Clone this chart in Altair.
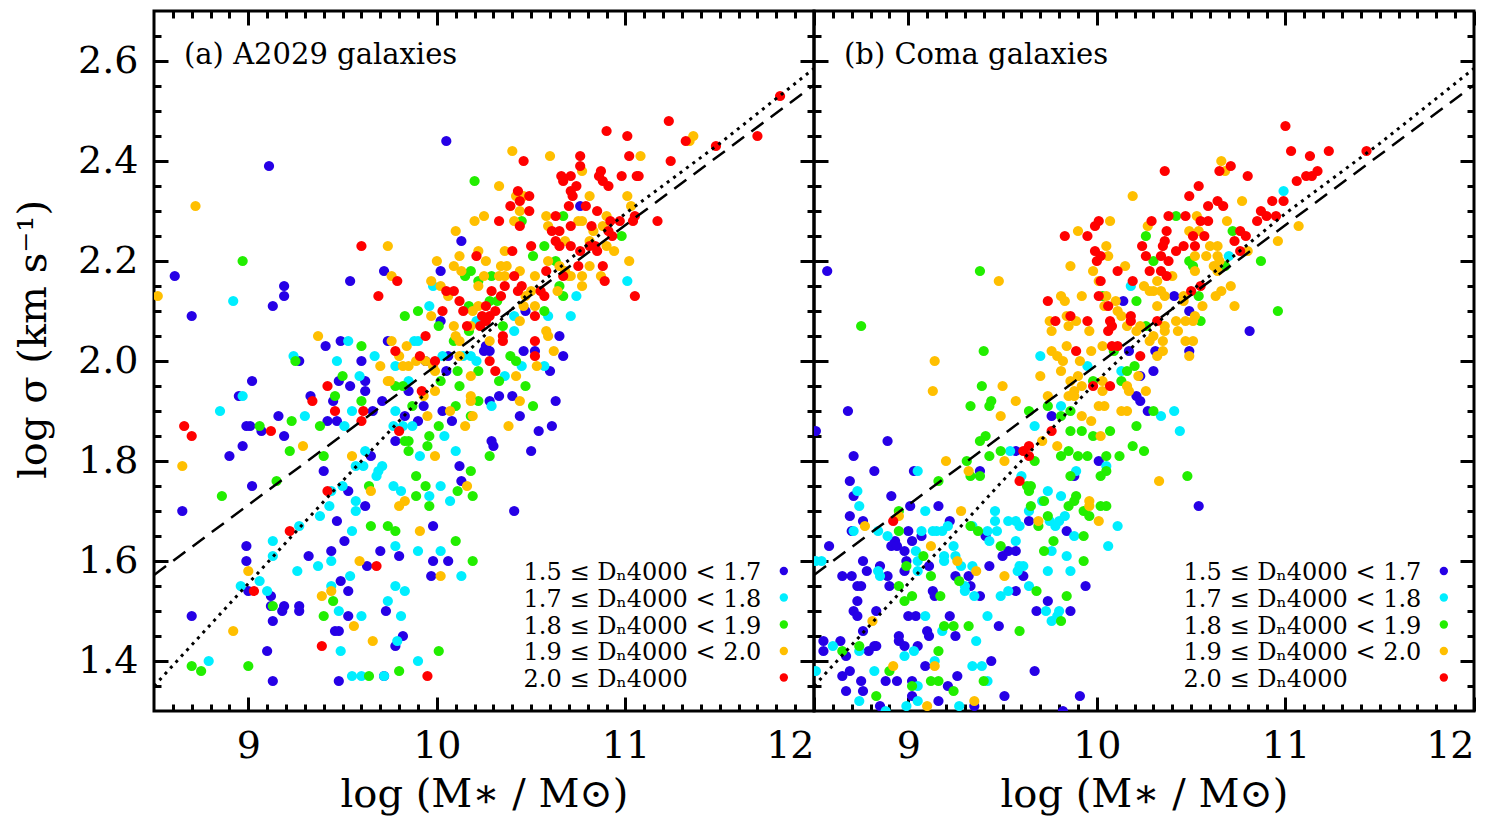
import pandas as pd
import altair as alt

FONT = "DejaVu Serif"

CLASSES = [
    "1.5 ≤ Dₙ4000 < 1.7",
    "1.7 ≤ Dₙ4000 < 1.8",
    "1.8 ≤ Dₙ4000 < 1.9",
    "1.9 ≤ Dₙ4000 < 2.0",
    "2.0 ≤ Dₙ4000",
]
COLORS = ["#2600e6", "#00eeff", "#22ee00", "#ffbf00", "#ff0000"]

# ---- (a) A2029: (log M*, log sigma) ----
A_BLUE = [
    (10.05, 2.44), (9.11, 2.39), (8.61, 2.17), (8.70, 2.09), (9.13, 2.11), (9.19, 2.15), (9.19, 2.13),
    (9.54, 2.16), (9.72, 2.18), (9.41, 2.03), (9.49, 2.04), (9.27, 2.00), (9.60, 2.00), (9.74, 2.04),
    (10.13, 2.24), (10.02, 2.18), (10.02, 2.08), (10.47, 2.10), (10.65, 2.05), (10.46, 2.02), (10.52, 2.02),
    (10.67, 2.01), (10.60, 1.98), (10.25, 2.02), (10.28, 2.02), (10.26, 2.03), (10.06, 2.01), (9.94, 2.00),
    (10.05, 1.98), (10.28, 1.92), (10.33, 1.93), (10.40, 1.93), (10.63, 1.92), (10.44, 1.89), (10.61, 1.87),
    (10.54, 1.86), (10.50, 1.82), (10.29, 1.84), (10.30, 1.83), (10.03, 1.90), (10.08, 1.88), (9.78, 1.84),
    (9.90, 1.88), (9.93, 1.91), (9.83, 1.89), (9.85, 1.94), (10.76, 2.31),
    (9.02, 1.96), (8.95, 1.93), (8.99, 1.87), (9.01, 1.87), (9.07, 1.86), (9.16, 1.89), (9.19, 1.85),
    (9.33, 1.93), (9.45, 1.92), (9.48, 1.96), (9.54, 1.95), (9.62, 1.96), (9.62, 1.94), (9.42, 1.88),
    (9.47, 1.88), (9.66, 1.90), (9.71, 1.92), (8.90, 1.81), (8.97, 1.83), (8.65, 1.70), (9.02, 1.75),
    (9.40, 1.78), (9.53, 1.74), (9.47, 1.68), (9.65, 1.81), (9.62, 1.71), (10.13, 1.76), (10.12, 1.79),
    (9.98, 1.67), (9.98, 1.60), (10.06, 1.60), (9.97, 1.57), (9.80, 1.61), (9.70, 1.62), (9.63, 1.59),
    (9.51, 1.64), (9.44, 1.62), (9.32, 1.61), (8.99, 1.63), (8.99, 1.60), (9.00, 1.54), (9.12, 1.53),
    (9.12, 1.51), (9.13, 1.48), (9.19, 1.51), (9.18, 1.50), (9.27, 1.51), (9.27, 1.50), (9.49, 1.56),
    (9.53, 1.54), (9.53, 1.49), (9.46, 1.46), (9.48, 1.46), (9.73, 1.50), (9.82, 1.45), (9.78, 1.43),
    (9.10, 1.42), (8.70, 1.49), (9.13, 1.36), (9.48, 1.36), (9.72, 1.37), (10.41, 1.70),
]
A_CYAN = [
    (8.92, 2.12), (9.53, 2.04), (9.24, 2.01), (9.47, 2.00), (9.67, 2.01),
    (9.98, 2.15), (9.96, 2.11), (10.21, 2.08), (10.41, 2.09), (10.41, 2.06), (10.59, 2.09), (10.74, 2.13),
    (10.71, 2.09), (10.57, 1.99), (10.45, 1.99), (10.36, 1.97), (10.21, 2.00), (10.18, 2.01), (10.14, 2.01),
    (10.03, 2.01), (9.90, 2.04), (9.88, 2.04), (9.78, 1.99), (9.85, 1.96), (10.29, 1.91), (10.04, 1.85),
    (10.10, 1.82), (9.91, 1.81), (9.82, 1.87), (9.87, 1.87), (9.77, 1.87), (9.78, 1.90), (11.01, 2.16),
    (8.97, 1.93), (8.85, 1.90), (9.30, 1.89), (9.59, 1.97), (9.55, 1.90), (9.51, 1.87), (9.62, 1.82),
    (9.44, 1.74), (9.43, 1.71), (9.50, 1.75), (9.38, 1.69), (9.57, 1.79), (9.61, 1.79), (9.68, 1.77),
    (9.69, 1.78), (9.71, 1.79), (9.57, 1.72), (9.57, 1.70), (9.77, 1.75), (9.81, 1.74), (9.96, 1.73),
    (10.02, 1.75), (10.07, 1.72), (10.13, 1.57), (10.02, 1.62), (9.78, 1.63), (9.90, 1.62), (9.55, 1.66),
    (9.44, 1.60), (9.37, 1.59), (9.26, 1.58), (9.13, 1.64), (9.13, 1.61), (9.27, 1.67), (9.06, 1.56),
    (8.96, 1.55), (9.10, 1.54), (9.44, 1.55), (9.54, 1.57), (9.48, 1.50), (9.60, 1.49), (9.74, 1.52),
    (9.78, 1.55), (9.83, 1.54), (9.81, 1.49), (9.79, 1.44), (9.49, 1.42), (8.79, 1.40), (9.55, 1.37),
    (9.60, 1.37), (9.72, 1.37), (9.90, 1.40),
]
A_GREEN = [
    (8.97, 2.20), (9.60, 2.03), (9.25, 2.00),
    (10.20, 2.36), (10.45, 2.28), (10.57, 2.23), (10.51, 2.21), (10.18, 2.18), (10.15, 2.17), (10.22, 2.16),
    (10.29, 2.17), (10.17, 2.11), (9.83, 2.09), (9.90, 2.10), (10.01, 2.07), (10.28, 2.12), (10.32, 2.12),
    (10.17, 2.06), (10.35, 2.07), (10.57, 2.10), (10.63, 2.20), (10.65, 2.15), (10.67, 2.13), (10.39, 2.01),
    (10.42, 2.00), (10.33, 1.96), (10.22, 1.98), (10.09, 2.04), (10.02, 1.96), (9.78, 1.95), (9.82, 1.95),
    (10.12, 1.95), (10.22, 1.92), (10.51, 1.91), (10.47, 1.95), (10.28, 1.81), (10.18, 1.89), (10.10, 1.91),
    (10.01, 1.87), (9.96, 1.85), (9.95, 1.83), (9.85, 1.82), (9.83, 1.84), (9.85, 1.84), (9.87, 1.91),
    (10.67, 2.29), (10.98, 2.25), (10.11, 1.98),
    (9.06, 1.87), (9.23, 1.88), (9.46, 1.93), (9.50, 1.97), (9.60, 1.92), (9.38, 1.87), (9.22, 1.82),
    (8.86, 1.73), (9.15, 1.76), (9.40, 1.81), (9.64, 1.75), (9.65, 1.67), (9.74, 1.67), (9.78, 1.66),
    (9.89, 1.77), (9.94, 1.75), (9.89, 1.73), (9.96, 1.71), (10.11, 1.74), (10.19, 1.73), (10.18, 1.78),
    (10.10, 1.64), (10.19, 1.60), (9.13, 1.51), (9.45, 1.52), (9.40, 1.49), (8.70, 1.39), (8.75, 1.38),
    (9.00, 1.39), (9.64, 1.37), (9.80, 1.38), (10.01, 1.42),
]
A_ORANGE = [
    (8.72, 2.31), (8.52, 2.13), (9.74, 2.23), (9.37, 2.05),
    (10.33, 2.35), (10.42, 2.33), (10.46, 2.33), (10.44, 2.30), (10.41, 2.28), (10.25, 2.29), (10.20, 2.28),
    (10.10, 2.26), (10.22, 2.22), (10.36, 2.22), (10.26, 2.20), (10.12, 2.21), (10.00, 2.20), (10.09, 2.19),
    (10.13, 2.18), (10.25, 2.17), (10.34, 2.19), (10.37, 2.19), (10.36, 2.17), (10.33, 2.17), (10.44, 2.18),
    (9.97, 2.16), (9.76, 2.17), (10.02, 2.15), (10.06, 2.13), (9.97, 2.09), (10.22, 2.15), (10.22, 2.11),
    (10.19, 2.10), (10.18, 2.07), (10.47, 2.13), (10.50, 2.14), (10.52, 2.17), (10.52, 2.11), (10.46, 2.11),
    (10.44, 2.08), (10.28, 2.04), (10.65, 2.19), (10.68, 2.18), (10.71, 2.17), (10.64, 2.14), (10.58, 2.06),
    (10.59, 2.05), (10.62, 2.02), (10.53, 1.99), (10.42, 1.97), (10.12, 2.01), (10.09, 2.07), (10.10, 2.05),
    (10.12, 2.04), (9.84, 2.03), (9.76, 2.04), (9.80, 2.01), (9.82, 1.99), (9.85, 1.99), (9.89, 2.00),
    (9.94, 2.00), (9.98, 1.99), (9.99, 1.98), (9.75, 1.96), (9.93, 1.93), (9.99, 1.94), (10.18, 1.97),
    (10.18, 1.93), (10.18, 1.92), (10.44, 1.92), (10.38, 1.87), (10.19, 1.89), (10.15, 1.87), (10.07, 1.90),
    (9.95, 1.89), (9.99, 1.81), (10.81, 2.33), (11.01, 2.33), (11.03, 2.31), (10.58, 2.29), (10.59, 2.27),
    (10.75, 2.28), (10.77, 2.28), (10.83, 2.26), (10.88, 2.27), (10.68, 2.24), (10.81, 2.24), (10.90, 2.23),
    (10.94, 2.22), (11.02, 2.20), (10.87, 2.17), (10.81, 2.19), (10.77, 2.17), (10.77, 2.15), (10.70, 2.17),
    (10.59, 2.20), (10.90, 2.29),
    (9.70, 1.99), (9.74, 1.96), (9.29, 1.83), (8.65, 1.79), (9.55, 1.81), (9.65, 1.74), (9.83, 1.72),
    (9.80, 1.71), (10.16, 1.75), (9.91, 1.66), (10.02, 1.57), (9.59, 1.60), (9.00, 1.58), (9.39, 1.53),
    (9.44, 1.54), (9.56, 1.47), (9.66, 1.44), (8.92, 1.46),
    (10.40, 2.42), (10.60, 2.41), (11.36, 2.45), (11.34, 2.44), (11.08, 2.41), (10.77, 2.38),
]
A_RED = [
    (9.60, 2.23), (9.69, 2.13),
    (10.43, 2.34), (10.49, 2.33), (10.44, 2.32), (10.39, 2.31), (10.49, 2.30), (10.44, 2.27), (10.33, 2.28),
    (10.40, 2.22), (10.50, 2.23), (10.21, 2.21), (10.41, 2.17), (9.79, 2.16), (10.05, 2.14), (10.09, 2.14),
    (10.12, 2.12), (10.14, 2.10), (10.03, 2.10), (10.29, 2.14), (10.36, 2.15), (10.34, 2.13), (10.26, 2.11),
    (10.31, 2.10), (10.24, 2.09), (10.28, 2.09), (10.26, 2.08), (10.23, 2.07), (10.16, 2.07), (10.45, 2.15),
    (10.43, 2.14), (10.55, 2.14), (10.57, 2.13), (10.52, 2.09), (10.35, 2.05), (10.35, 2.04), (10.58, 2.18),
    (10.67, 2.17), (10.52, 2.04), (10.52, 2.01), (10.28, 2.00), (10.31, 1.98), (9.99, 2.00), (9.94, 2.05),
    (9.91, 2.01), (9.78, 2.02), (9.92, 1.94), (9.80, 1.86), (10.67, 2.36), (10.74, 2.35), (10.71, 2.34),
    (10.72, 2.33), (10.88, 2.36), (10.91, 2.35), (10.98, 2.37), (11.06, 2.37), (10.70, 2.31), (10.79, 2.31),
    (10.85, 2.30), (10.92, 2.28), (10.97, 2.28), (11.04, 2.28), (11.05, 2.29), (10.63, 2.29), (10.71, 2.27),
    (10.82, 2.27), (10.91, 2.26), (10.61, 2.26), (10.65, 2.26), (10.63, 2.24), (10.65, 2.23), (10.71, 2.23),
    (10.76, 2.22), (10.81, 2.23), (10.84, 2.23), (10.85, 2.22), (10.93, 2.25), (10.88, 2.19), (10.89, 2.16),
    (10.75, 2.19), (11.05, 2.13),
    (8.66, 1.87), (8.70, 1.85), (9.12, 1.86), (9.34, 1.92), (9.42, 1.95), (9.46, 1.90), (9.61, 1.90),
    (9.60, 1.88), (9.42, 1.74), (9.22, 1.66), (9.03, 1.54), (9.68, 1.59), (9.39, 1.43), (9.95, 1.37),
    (10.46, 2.40), (10.90, 2.46), (11.01, 2.45), (11.23, 2.48), (11.32, 2.44), (11.48, 2.43), (11.70, 2.45),
    (11.82, 2.53), (11.24, 2.40), (11.02, 2.41), (10.76, 2.41), (10.76, 2.39), (10.66, 2.37), (10.71, 2.37),
    (10.87, 2.38), (10.86, 2.37), (11.07, 2.37), (11.17, 2.28),
]

# ---- (b) Coma ----
B_BLUE = [
    (8.57, 2.18), (10.41, 2.13), (10.14, 2.12), (10.49, 2.10), (10.49, 2.02), (10.31, 2.02), (10.30, 1.98),
    (10.17, 2.02), (10.23, 1.97), (10.21, 1.93), (10.23, 1.92), (9.76, 1.89), (10.27, 1.90), (10.81, 2.06),
    (8.51, 1.86), (8.68, 1.90), (8.89, 1.84), (9.57, 1.82), (9.38, 1.78), (9.03, 1.78), (8.82, 1.78),
    (8.71, 1.81), (8.69, 1.76), (8.71, 1.73), (8.91, 1.73), (9.01, 1.71), (9.16, 1.71), (8.69, 1.69),
    (8.76, 1.68), (8.70, 1.66), (8.58, 1.63), (9.00, 1.66), (9.22, 1.68), (9.41, 1.65), (9.50, 1.61),
    (9.53, 1.62), (9.57, 1.62), (9.64, 1.68), (9.84, 1.66), (9.94, 1.55), (9.74, 1.52), (9.68, 1.50),
    (9.86, 1.50), (9.48, 1.47), (9.57, 1.54), (9.61, 1.57), (9.43, 1.59), (9.38, 1.53), (9.33, 1.55),
    (9.25, 1.57), (9.32, 1.57), (9.11, 1.59), (9.02, 1.64), (9.07, 1.65), (8.98, 1.62), (8.99, 1.60),
    (8.98, 1.58), (8.93, 1.64), (8.91, 1.63), (8.94, 1.63), (9.13, 1.54), (9.14, 1.53), (9.00, 1.49),
    (9.04, 1.49), (8.90, 1.55), (8.89, 1.57), (8.78, 1.58), (8.76, 1.60), (8.85, 1.59), (8.65, 1.57),
    (8.70, 1.57), (8.75, 1.55), (8.73, 1.55), (8.73, 1.52), (8.71, 1.50), (8.73, 1.49), (8.83, 1.50),
    (8.76, 1.46), (8.64, 1.44), (8.55, 1.44), (8.55, 1.42), (8.67, 1.41), (8.79, 1.42), (8.82, 1.43),
    (8.83, 1.43), (8.94, 1.36), (8.88, 1.36), (8.95, 1.45), (8.98, 1.43), (8.95, 1.44), (9.05, 1.43),
    (9.10, 1.46), (9.11, 1.45), (9.09, 1.39), (9.22, 1.49), (9.25, 1.45), (9.44, 1.40), (9.26, 1.37),
    (9.21, 1.35), (9.02, 1.36), (9.02, 1.33), (9.16, 1.32), (9.35, 1.31), (9.51, 1.33), (9.67, 1.38),
    (9.91, 1.33), (9.82, 1.30), (8.85, 1.31), (8.75, 1.36), (8.76, 1.34), (8.67, 1.34), (8.65, 1.37),
    (8.69, 1.38), (9.88, 1.77), (10.01, 1.80), (10.54, 1.71),
]
B_CYAN = [
    (10.18, 2.15), (10.70, 2.21), (9.70, 2.01), (9.95, 1.99), (10.13, 1.98), (9.81, 1.91), (10.34, 1.89),
    (10.41, 1.90), (9.67, 1.87), (10.44, 1.86), (10.99, 2.34), (8.51, 1.60), (8.51, 1.38),
    (9.54, 1.82), (9.60, 1.77), (9.05, 1.78), (8.73, 1.74), (8.74, 1.71), (8.71, 1.66), (8.54, 1.60),
    (8.84, 1.66), (8.89, 1.65), (9.09, 1.70), (9.07, 1.66), (9.13, 1.66), (9.15, 1.66), (9.18, 1.66),
    (9.21, 1.67), (9.34, 1.67), (9.46, 1.70), (9.46, 1.68), (9.47, 1.66), (9.42, 1.66), (9.53, 1.68),
    (9.57, 1.68), (9.59, 1.67), (9.43, 1.64), (9.57, 1.64), (9.75, 1.68), (9.78, 1.67), (9.80, 1.68),
    (9.83, 1.69), (9.71, 1.72), (9.64, 1.70), (9.74, 1.74), (9.81, 1.73), (9.88, 1.65), (10.11, 1.67),
    (10.06, 1.63), (9.84, 1.61), (9.86, 1.58), (9.74, 1.58), (9.76, 1.62), (9.64, 1.55), (9.73, 1.50),
    (9.80, 1.50), (9.76, 1.48), (9.79, 1.49), (9.49, 1.53), (9.53, 1.54), (9.42, 1.49), (9.59, 1.59),
    (9.58, 1.58), (9.61, 1.59), (9.34, 1.59), (9.30, 1.54), (9.30, 1.55), (9.35, 1.53), (9.19, 1.61),
    (9.19, 1.60), (9.25, 1.61), (9.24, 1.63), (9.28, 1.59), (9.04, 1.62), (9.05, 1.60), (9.05, 1.58),
    (8.84, 1.58), (8.85, 1.57), (9.09, 1.49), (8.60, 1.43), (8.74, 1.42), (8.98, 1.41), (9.03, 1.42),
    (9.14, 1.40), (9.18, 1.46), (9.36, 1.44), (9.34, 1.39), (9.39, 1.39), (9.42, 1.36), (9.27, 1.31),
    (9.05, 1.35), (9.05, 1.32), (8.99, 1.31), (8.88, 1.30), (8.74, 1.32), (8.82, 1.38), (9.89, 1.78),
    (10.05, 1.79),
]
B_GREEN = [
    (9.38, 2.18), (8.75, 2.07), (9.40, 2.02),
    (10.42, 2.29), (10.72, 2.26), (10.26, 2.25), (10.30, 2.20), (10.87, 2.20), (10.49, 2.20), (10.51, 2.19),
    (10.68, 2.19), (10.54, 2.13), (10.03, 2.13), (10.21, 2.12), (10.55, 2.08), (10.26, 2.07), (10.09, 2.02),
    (10.16, 1.98), (10.20, 1.99), (10.13, 1.96), (9.98, 1.96), (9.74, 1.91), (9.81, 1.89), (9.86, 1.90),
    (10.30, 1.90), (10.21, 1.87), (10.07, 1.86), (9.92, 1.86), (9.86, 1.86), (9.98, 1.85), (9.64, 1.90),
    (10.96, 2.10),
    (9.39, 1.95), (9.44, 1.92), (9.43, 1.91), (9.33, 1.91), (9.41, 1.85), (9.38, 1.84), (9.43, 1.81),
    (9.49, 1.82), (9.67, 1.80), (9.38, 1.77), (9.31, 1.80), (9.33, 1.77), (9.16, 1.76), (8.95, 1.70),
    (8.95, 1.66), (9.33, 1.67), (9.37, 1.66), (9.49, 1.63), (9.69, 1.67), (9.74, 1.69), (9.77, 1.64),
    (9.72, 1.72), (9.65, 1.71), (9.63, 1.75), (9.65, 1.75), (9.64, 1.74), (9.85, 1.71), (9.88, 1.72),
    (9.89, 1.73), (9.93, 1.70), (9.96, 1.69), (10.02, 1.71), (10.05, 1.71), (9.93, 1.65), (9.93, 1.60),
    (9.72, 1.62), (9.68, 1.54), (9.84, 1.53), (9.81, 1.48), (9.59, 1.46), (9.27, 1.56), (9.08, 1.61),
    (8.99, 1.59), (8.95, 1.55), (8.98, 1.52), (9.02, 1.53), (9.12, 1.57), (9.17, 1.53), (8.65, 1.42),
    (8.74, 1.43), (8.90, 1.38), (9.16, 1.42), (9.19, 1.47), (9.24, 1.47), (9.32, 1.47), (9.40, 1.36),
    (9.24, 1.34), (9.16, 1.36), (9.12, 1.36), (9.02, 1.35), (8.83, 1.33), (9.81, 1.81), (9.85, 1.82),
    (9.86, 1.77), (10.02, 1.77), (10.05, 1.78), (10.05, 1.81), (10.12, 1.81), (10.19, 1.83), (10.25, 1.82),
    (9.95, 1.81), (9.90, 1.81), (10.48, 1.77),
]
B_ORANGE = [
    (9.48, 2.16), (9.14, 2.00),
    (10.66, 2.40), (10.68, 2.38), (10.19, 2.33), (10.77, 2.32), (10.27, 2.27), (10.53, 2.29), (10.69, 2.28),
    (10.49, 2.26), (10.54, 2.26), (10.60, 2.23), (10.64, 2.23), (10.52, 2.21), (10.58, 2.21), (10.64, 2.21),
    (10.80, 2.22), (10.62, 2.19), (10.65, 2.20), (10.40, 2.17), (10.32, 2.16), (10.52, 2.18), (10.64, 2.18),
    (10.71, 2.15), (10.66, 2.14), (10.63, 2.13), (10.73, 2.11), (10.56, 2.11), (10.46, 2.13), (10.46, 2.12),
    (10.32, 2.11), (10.25, 2.15), (10.30, 2.14), (10.34, 2.14), (10.28, 2.14), (10.36, 2.13), (10.15, 2.19),
    (10.05, 2.23), (10.06, 2.21), (9.98, 2.18), (10.01, 2.16), (9.86, 2.19), (9.90, 2.26), (10.07, 2.28),
    (10.05, 2.13), (10.10, 2.12), (10.04, 2.11), (10.11, 2.10), (10.13, 2.09), (9.81, 2.13), (9.83, 2.12),
    (9.92, 2.13), (9.84, 2.09), (9.85, 2.07), (9.89, 2.08), (9.75, 2.08), (9.76, 2.06), (9.96, 2.06),
    (10.16, 2.07), (10.21, 2.06), (10.23, 2.07), (10.36, 2.07), (10.36, 2.06), (10.35, 2.04), (10.30, 2.05),
    (10.28, 2.04), (10.42, 2.08), (10.47, 2.08), (10.51, 2.08), (10.52, 2.09), (10.43, 2.06), (10.47, 2.04),
    (10.51, 2.04), (10.49, 2.01), (10.35, 2.02), (10.32, 2.01), (10.03, 2.03), (9.97, 2.02), (9.84, 2.03),
    (9.76, 2.02), (9.79, 2.01), (9.82, 2.00), (9.81, 1.98), (9.91, 2.00), (9.70, 1.97), (9.86, 1.96),
    (9.90, 1.97), (9.88, 1.94), (9.92, 1.95), (10.03, 1.96), (10.03, 1.94), (10.16, 1.95), (10.17, 1.94),
    (10.22, 1.97), (10.26, 1.94), (10.01, 1.91), (10.04, 1.91), (9.85, 1.93), (9.88, 1.93), (9.74, 1.93),
    (9.92, 1.89), (9.97, 1.88), (10.13, 1.90), (10.16, 1.90), (10.02, 1.85), (11.07, 2.27), (10.96, 2.24),
    (9.13, 1.94), (9.50, 1.95), (9.49, 1.89), (9.57, 1.92), (9.51, 1.80), (9.71, 1.84), (9.79, 1.83),
    (9.32, 1.78), (9.20, 1.80), (8.95, 1.69), (8.77, 1.67), (9.28, 1.70), (9.69, 1.68), (9.96, 1.72),
    (9.96, 1.71), (10.01, 1.68), (9.51, 1.57), (9.36, 1.58), (9.26, 1.60), (9.12, 1.63), (8.81, 1.48),
    (8.92, 1.39), (9.14, 1.39), (9.35, 1.32), (9.10, 1.31), (10.33, 1.76),
]
B_RED = [
    (10.36, 2.38), (10.71, 2.39), (10.65, 2.38), (10.80, 2.37), (10.54, 2.35), (10.49, 2.33), (10.93, 2.32),
    (10.59, 2.31), (10.64, 2.32), (10.67, 2.31), (10.87, 2.30), (10.90, 2.29), (10.85, 2.28), (10.95, 2.29),
    (10.38, 2.29), (10.47, 2.29), (10.29, 2.28), (10.55, 2.28), (10.59, 2.28), (10.37, 2.26), (10.76, 2.26),
    (10.79, 2.25), (10.36, 2.24), (10.51, 2.25), (10.57, 2.25), (10.46, 2.23), (10.52, 2.23), (10.73, 2.24),
    (10.24, 2.23), (10.35, 2.23), (10.42, 2.22), (10.26, 2.21), (10.34, 2.21), (10.76, 2.22), (10.38, 2.20),
    (10.28, 2.18), (10.34, 2.18), (10.37, 2.17), (10.55, 2.15), (10.50, 2.14), (10.19, 2.16), (10.11, 2.18),
    (10.02, 2.16), (10.02, 2.21), (9.99, 2.22), (10.00, 2.20), (9.95, 2.25), (9.83, 2.25), (9.99, 2.27),
    (10.01, 2.28), (10.01, 2.13), (10.06, 2.11), (10.18, 2.09), (10.18, 2.08), (10.07, 2.08), (10.08, 2.07),
    (10.06, 2.06), (9.95, 2.08), (9.78, 2.08), (9.86, 2.09), (9.74, 2.12), (10.32, 2.08), (10.23, 2.01),
    (10.11, 2.03), (10.08, 2.03), (9.89, 2.02), (9.98, 1.95), (10.07, 1.95), (9.76, 1.86),
    (11.00, 2.47), (11.03, 2.42), (11.13, 2.41), (11.23, 2.42), (11.43, 2.42), (11.17, 2.38), (11.11, 2.37),
    (11.14, 2.37), (11.06, 2.36), (10.99, 2.32),
    (9.61, 1.82), (9.64, 1.83), (9.64, 1.81), (9.59, 1.76), (8.92, 1.68),
]

# relations drawn in both panels
DASH_MASS = [8.5, 12.0]
DASH_SIGMA = [1.572, 2.552]
DOT_MASS = [8.5, 9.0, 9.5, 10.0, 10.5, 11.0, 11.5, 12.0]
DOT_SIGMA = [1.35, 1.555, 1.76, 1.96, 2.14, 2.295, 2.435, 2.585]

X_MAJOR = [9, 10, 11, 12]
X_MINOR = [round(8.6 + 0.1 * i, 1) for i in range(34)]
Y_MAJOR = [1.4, 1.6, 1.8, 2.0, 2.2, 2.4, 2.6]
Y_MINOR = [round(1.35 + 0.05 * i, 2) for i in range(27)]

LEGEND_SIGMA = [1.580, 1.527, 1.473, 1.420, 1.367]
LEGEND_TEXT_MASS = 10.46
LEGEND_DOT_MASS = 11.84


def frame(groups):
    rows = []
    for cls, pts in zip(CLASSES, groups):
        for m, s in pts:
            rows.append({"mass": m, "sigma": s, "cls": cls})
    return pd.DataFrame(rows)


xs = alt.Scale(domain=[8.5, 12], nice=False, zero=False)
ys = alt.Scale(domain=[1.3, 2.7], nice=False, zero=False)
cs = alt.Scale(domain=CLASSES, range=COLORS)


def ticks(orient, values, size):
    return alt.Axis(orient=orient, values=values, labels=False, domain=False, grid=False,
                    tickSize=size, tickWidth=3, tickColor="black", offset=-size, title=None)


def panel(groups, title, show_y):
    pts = frame(groups)
    x_lab = alt.Axis(orient="bottom", values=X_MAJOR, format="d", ticks=False, tickSize=0,
                     domain=False, grid=False, labelFont=FONT, labelFontSize=38, labelColor="black",
                     labelPadding=16, title="log (M∗ / M⊙)", titleFont=FONT, titleFontSize=40,
                     titleFontWeight="normal", titleColor="black", titlePadding=9)
    if show_y:
        y_lab = alt.Axis(orient="left", values=Y_MAJOR, format=".1f", ticks=False, tickSize=0,
                         domain=False, grid=False, labelFont=FONT, labelFontSize=38, labelColor="black",
                         labelPadding=16, title="log σ (km s⁻¹)", titleFont=FONT, titleFontSize=40,
                         titleFontWeight="normal", titleColor="black", titlePadding=24, titleY=328)
    else:
        y_lab = None

    dots = alt.Chart(pts).mark_circle(size=105, opacity=1, clip=True).encode(
        x=alt.X("mass:Q", scale=xs, axis=x_lab),
        y=alt.Y("sigma:Q", scale=ys, axis=y_lab),
        color=alt.Color("cls:N", scale=cs, legend=None),
    )

    dash_df = pd.DataFrame({"mass": DASH_MASS, "sigma": DASH_SIGMA})
    dashed = alt.Chart(dash_df).mark_line(color="black", strokeWidth=2.5, strokeDash=[15, 9], clip=True).encode(
        x=alt.X("mass:Q", scale=xs, axis=ticks("bottom", X_MAJOR, 14)),
        y=alt.Y("sigma:Q", scale=ys, axis=ticks("left", Y_MAJOR, 14)),
    )

    dot_df = pd.DataFrame({"mass": DOT_MASS, "sigma": DOT_SIGMA})
    dotted = alt.Chart(dot_df).mark_line(color="black", strokeWidth=3, strokeDash=[3, 5], clip=True).encode(
        x=alt.X("mass:Q", scale=xs, axis=ticks("bottom", X_MINOR, 7)),
        y=alt.Y("sigma:Q", scale=ys, axis=ticks("left", Y_MINOR, 7)),
    )

    leg_df = pd.DataFrame({
        "tm": [LEGEND_TEXT_MASS] * len(CLASSES),
        "dm": [LEGEND_DOT_MASS] * len(CLASSES),
        "sigma": LEGEND_SIGMA,
        "cls": CLASSES,
    })
    leg_text = alt.Chart(leg_df).mark_text(align="left", baseline="middle", dy=2, font=FONT,
                                            fontSize=24, color="black").encode(
        x=alt.X("tm:Q", scale=xs, axis=ticks("top", X_MAJOR, 14)),
        y=alt.Y("sigma:Q", scale=ys, axis=ticks("right", Y_MAJOR, 14)),
        text="cls:N",
    )
    leg_dots = alt.Chart(leg_df).mark_circle(size=70, opacity=1).encode(
        x=alt.X("dm:Q", scale=xs, axis=ticks("top", X_MINOR, 7)),
        y=alt.Y("sigma:Q", scale=ys, axis=ticks("right", Y_MINOR, 7)),
        color=alt.Color("cls:N", scale=cs, legend=None),
    )

    label = alt.Chart(pd.DataFrame({"t": [title]})).mark_text(
        align="left", baseline="alphabetic", font=FONT, fontSize=29, color="black"
    ).encode(x=alt.value(30), y=alt.value(53), text="t:N")

    return alt.layer(dots, dashed, dotted, leg_text, leg_dots, label).resolve_axis(
        x="independent", y="independent"
    ).properties(width=660, height=700)


left = panel([A_BLUE, A_CYAN, A_GREEN, A_ORANGE, A_RED], "(a) A2029 galaxies", True)
right = panel([B_BLUE, B_CYAN, B_GREEN, B_ORANGE, B_RED], "(b) Coma galaxies", False)

chart = alt.hconcat(left, right, spacing=0, bounds="flush").properties(
    padding={"left": 4, "top": 0, "right": 0, "bottom": 0}
).configure_view(stroke="black", strokeWidth=3)

chart.save("out.html", embed_options={"renderer": "svg", "actions": False})
